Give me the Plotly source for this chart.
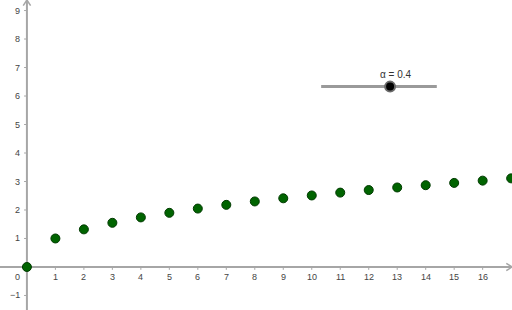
import plotly.graph_objects as go

# data
x_vals = list(range(0, 18))
y_vals = [0, 1.0, 1.32, 1.55, 1.74, 1.90, 2.05, 2.18, 2.30, 2.41, 2.51,
          2.61, 2.70, 2.79, 2.87, 2.95, 3.03, 3.11]
x_ticks = list(range(1, 17))
y_ticks = [-1, 1, 2, 3, 4, 5, 6, 7, 8, 9]
alpha_value = 0.4
slider_min, slider_max = 10.33, 14.39
slider_pos = 12.75
slider_y = 6.33

X0, X1 = -0.945, 17.03
Y0, Y1 = -1.51, 9.37
axis_color = "#a6a6a6"
label_color = "#444444"

fig = go.Figure()
fig.add_trace(go.Scatter(
    x=x_vals, y=y_vals, mode="markers",
    marker=dict(size=9, color="#006400", line=dict(color="#003a00", width=1)),
    hoverinfo="skip", showlegend=False, cliponaxis=False))

shapes = []
# axes
shapes.append(dict(type="line", x0=X0, x1=X1, y0=0, y1=0,
                   line=dict(color=axis_color, width=2), layer="below"))
shapes.append(dict(type="line", x0=0, x1=0, y0=Y0, y1=Y1,
                   line=dict(color=axis_color, width=2), layer="below"))
# arrow heads
shapes.append(dict(type="path", path=f"M {X1-0.2},0.13 L {X1},0 L {X1-0.2},-0.13",
                   line=dict(color=axis_color, width=1.5), layer="below"))
shapes.append(dict(type="path", path=f"M -0.13,{Y1-0.2} L 0,{Y1} L 0.13,{Y1-0.2}",
                   line=dict(color=axis_color, width=1.5), layer="below"))
annotations = []
for t in x_ticks:
    shapes.append(dict(type="line", x0=t, x1=t, y0=0, y1=-0.1,
                       line=dict(color=axis_color, width=1), layer="below"))
    annotations.append(dict(x=t, y=-0.12, text=str(t), showarrow=False,
                            yanchor="top", xanchor="center",
                            font=dict(size=9, color=label_color, family="Arial")))
for t in y_ticks:
    shapes.append(dict(type="line", x0=0, x1=-0.1, y0=t, y1=t,
                       line=dict(color=axis_color, width=1), layer="below"))
    txt = "\u2212" + str(-t) if t < 0 else str(t)
    annotations.append(dict(x=-0.18, y=t, text=txt, showarrow=False,
                            xanchor="right", yanchor="middle",
                            font=dict(size=9, color=label_color, family="Arial")))
annotations.append(dict(x=-0.18, y=-0.12, text="0", showarrow=False,
                        xanchor="right", yanchor="top",
                        font=dict(size=9, color=label_color, family="Arial")))

# slider
shapes.append(dict(type="line", x0=slider_min, x1=slider_max, y0=slider_y, y1=slider_y,
                   line=dict(color="#9a9a9a", width=3), layer="below"))
fig.add_trace(go.Scatter(
    x=[slider_pos], y=[slider_y], mode="markers",
    marker=dict(size=10, color="#000000", line=dict(color="#6a6a6a", width=2)),
    hoverinfo="skip", showlegend=False))
annotations.append(dict(x=slider_pos + 0.2, y=slider_y + 0.42, text=f"\u03b1 = {alpha_value}",
                        showarrow=False, xanchor="center", yanchor="middle",
                        font=dict(size=10, color="#333333", family="Arial")))

fig.update_layout(
    width=512, height=310, margin=dict(l=0, r=0, t=0, b=0),
    paper_bgcolor="white", plot_bgcolor="white",
    xaxis=dict(range=[X0, X1], visible=False, fixedrange=True),
    yaxis=dict(range=[Y0, Y1], visible=False, fixedrange=True),
    shapes=shapes, annotations=annotations)
fig.write_html("out.html")
